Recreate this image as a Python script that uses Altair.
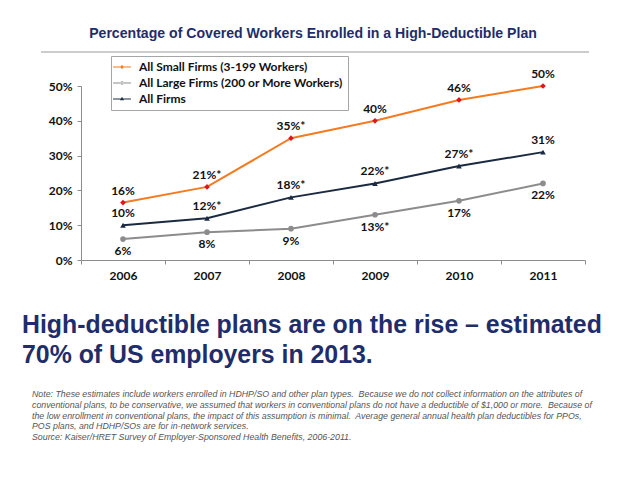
import altair as alt
import pandas as pd

years = ["2006", "2007", "2008", "2009", "2010", "2011"]
series_names = [
    "All Small Firms (3-199 Workers)",
    "All Large Firms (200 or More Workers)",
    "All Firms",
]
small_vals = [16.5, 21, 35, 40, 46, 50]
large_vals = [6, 8, 9, 13, 17, 22]
all_vals = [10, 12, 18, 22, 27, 31]
small_labels = ["16%", "21%*", "35%*", "40%", "46%", "50%"]
large_labels = ["6%", "8%", "9%", "13%*", "17%", "22%"]
all_labels = ["10%", "12%*", "18%*", "22%*", "27%*", "31%"]
y_ticks = [0, 10, 20, 30, 40, 50]

title_text = "Percentage of Covered Workers Enrolled in a High-Deductible Plan"
headline = [
    "High-deductible plans are on the rise \u2013 estimated",
    "70% of US employers in 2013.",
]
notes = [
    "Note: These estimates include workers enrolled in HDHP/SO and other plan types.\u00a0 Because we do not collect information on the attributes of",
    "conventional plans, to be conservative, we assumed that workers in conventional plans do not have a deductible of $1,000 or more.\u00a0 Because of",
    "the low enrollment in conventional plans, the impact of this assumption is minimal.\u00a0 Average general annual health plan deductibles for PPOs,",
    "POS plans, and HDHP/SOs are for in-network services.",
    "Source: Kaiser/HRET Survey of Employer-Sponsored Health Benefits, 2006-2011.",
]

rows = []
for name, vals, labs in [
    (series_names[0], small_vals, small_labels),
    (series_names[1], large_vals, large_labels),
    (series_names[2], all_vals, all_labels),
]:
    for y, v, l in zip(years, vals, labs):
        rows.append({"year": y, "value": v, "series": name, "label": l})
df = pd.DataFrame(rows)

line_colors = ["#F47B20", "#8C8C8C", "#1B2A41"]
marker_colors = ["#E3141B", "#8C8C8C", "#1B2A41"]
NAVY = "#1F2D6B"
LABEL_FONT = "Lato"

x_axis = alt.Axis(
    tickBand="extent",
    labelAngle=0,
    labelFont=LABEL_FONT,
    labelFontWeight="bold",
    labelFontSize=12,
    labelColor="#111111",
    domainColor="#8C8C8C",
    tickColor="#8C8C8C",
    tickSize=4,
    labelPadding=6,
)
y_axis = alt.Axis(
    values=y_ticks,
    labelExpr="datum.value + '%'",
    labelOverlap=False,
    labelFlush=False,
    labelBound=False,
    grid=False,
    labelFont=LABEL_FONT,
    labelFontWeight="bold",
    labelFontSize=12,
    labelColor="#111111",
    domainColor="#8C8C8C",
    tickColor="#8C8C8C",
    tickSize=4,
    labelPadding=5,
)
xs = alt.X("year:O", title=None, sort=years,
           scale=alt.Scale(paddingInner=0, paddingOuter=0), axis=x_axis)
ys = alt.Y("value:Q", title=None, scale=alt.Scale(domain=[0, 50], nice=False), axis=y_axis)

base = alt.Chart(df)

lines = base.mark_line(strokeWidth=2).encode(
    x=xs,
    y=ys,
    color=alt.Color(
        "series:N",
        scale=alt.Scale(domain=series_names, range=line_colors),
        legend=None,
    ),
)

points = base.mark_point(filled=True, opacity=1, size=32).encode(
    x=xs,
    y=ys,
    color=alt.Color(
        "series:N",
        scale=alt.Scale(domain=series_names, range=marker_colors),
        legend=None,
    ),
    shape=alt.Shape(
        "series:N",
        scale=alt.Scale(domain=series_names, range=["diamond", "circle", "triangle-up"]),
        legend=None,
    ),
)

text_common = dict(font=LABEL_FONT, fontWeight="bold", fontSize=12, color="#111111")
labels_above = (
    base.transform_filter(alt.FieldOneOfPredicate(field="series", oneOf=[series_names[0], series_names[2]]))
    .mark_text(baseline="alphabetic", dy=-8, **text_common)
    .encode(x=xs, y=ys, text="label:N")
)
labels_below = (
    base.transform_filter(alt.FieldEqualPredicate(field="series", equal=series_names[1]))
    .mark_text(baseline="alphabetic", dy=16, **text_common)
    .encode(x=xs, y=ys, text="label:N")
)

legend_paths = [
    "M-2,-0.12L2,-0.12L2,0.12L-2,0.12Z M0,-0.45L0.45,0L0,0.45L-0.45,0Z",
    "M-2,-0.12L2,-0.12L2,0.12L-2,0.12Z M-0.38,0A0.38,0.38 0 1,0 0.38,0A0.38,0.38 0 1,0 -0.38,0Z",
    "M-2,-0.12L2,-0.12L2,0.12L-2,0.12Z M0,-0.48L0.44,0.3L-0.44,0.3Z",
]
legend_layer = (
    base.transform_filter("false")
    .mark_point(filled=True, opacity=1)
    .encode(
        x=xs,
        y=ys,
        color=alt.Color(
            "series:N",
            scale=alt.Scale(domain=series_names, range=line_colors),
            legend=alt.Legend(
                title=None,
                orient="none",
                legendX=30,
                legendY=-30,
                fillColor="white",
                strokeColor="#A6A6A6",
                padding=5,
                symbolSize=80,
                symbolStrokeWidth=0,
                labelFont=LABEL_FONT,
                labelFontWeight="bold",
                labelFontSize=12,
                labelColor="#111111",
                labelLimit=400,
                rowPadding=4,
                labelOffset=11,
                symbolOpacity=1,
            ),
        ),
        shape=alt.Shape(
            "series:N",
            scale=alt.Scale(domain=series_names, range=legend_paths),
            legend=None,
        ),
    )
)


def text_line(t, x, y, **kw):
    return alt.Chart(pd.DataFrame({"t": [t]})).mark_text(
        baseline="alphabetic", **kw
    ).encode(text="t:N", x=alt.value(x), y=alt.value(y))


ann_layers = [
    text_line(title_text, 232, -48, font="Liberation Sans", fontWeight="bold",
              fontSize=14.1, color=NAVY, align="center"),
    alt.Chart(pd.DataFrame({"t": [0]})).mark_rule(color="#999999", strokeWidth=1).encode(
        x=alt.value(-40), x2=alt.value(508), y=alt.value(-34)
    ),
]
for i, t in enumerate(headline):
    ann_layers.append(text_line(t, -59, 247 + 30 * i, font="Liberation Sans", fontWeight="bold",
                                fontSize=24.85, color=NAVY, align="left"))
for i, t in enumerate(notes):
    ann_layers.append(text_line(t, -49, 311 + 10.8 * i, font="Liberation Sans", fontStyle="italic",
                                fontSize=8.8, color="#555555", align="left"))

chart = (
    alt.layer(lines, points, labels_above, labels_below, legend_layer, *ann_layers)
    .resolve_scale(color="independent", shape="independent")
    .properties(
        width=504,
        height=174,
        autosize=alt.AutoSizeParams(type="none"),
        padding={"left": 81, "top": 86, "right": 53, "bottom": 218},
        background="white",
    )
    .configure_view(stroke=None)
    .configure_axisY(labelOverlap=False, labelFlush=False)
)

chart.save("out.html", embed_options={"renderer": "svg", "actions": False})
